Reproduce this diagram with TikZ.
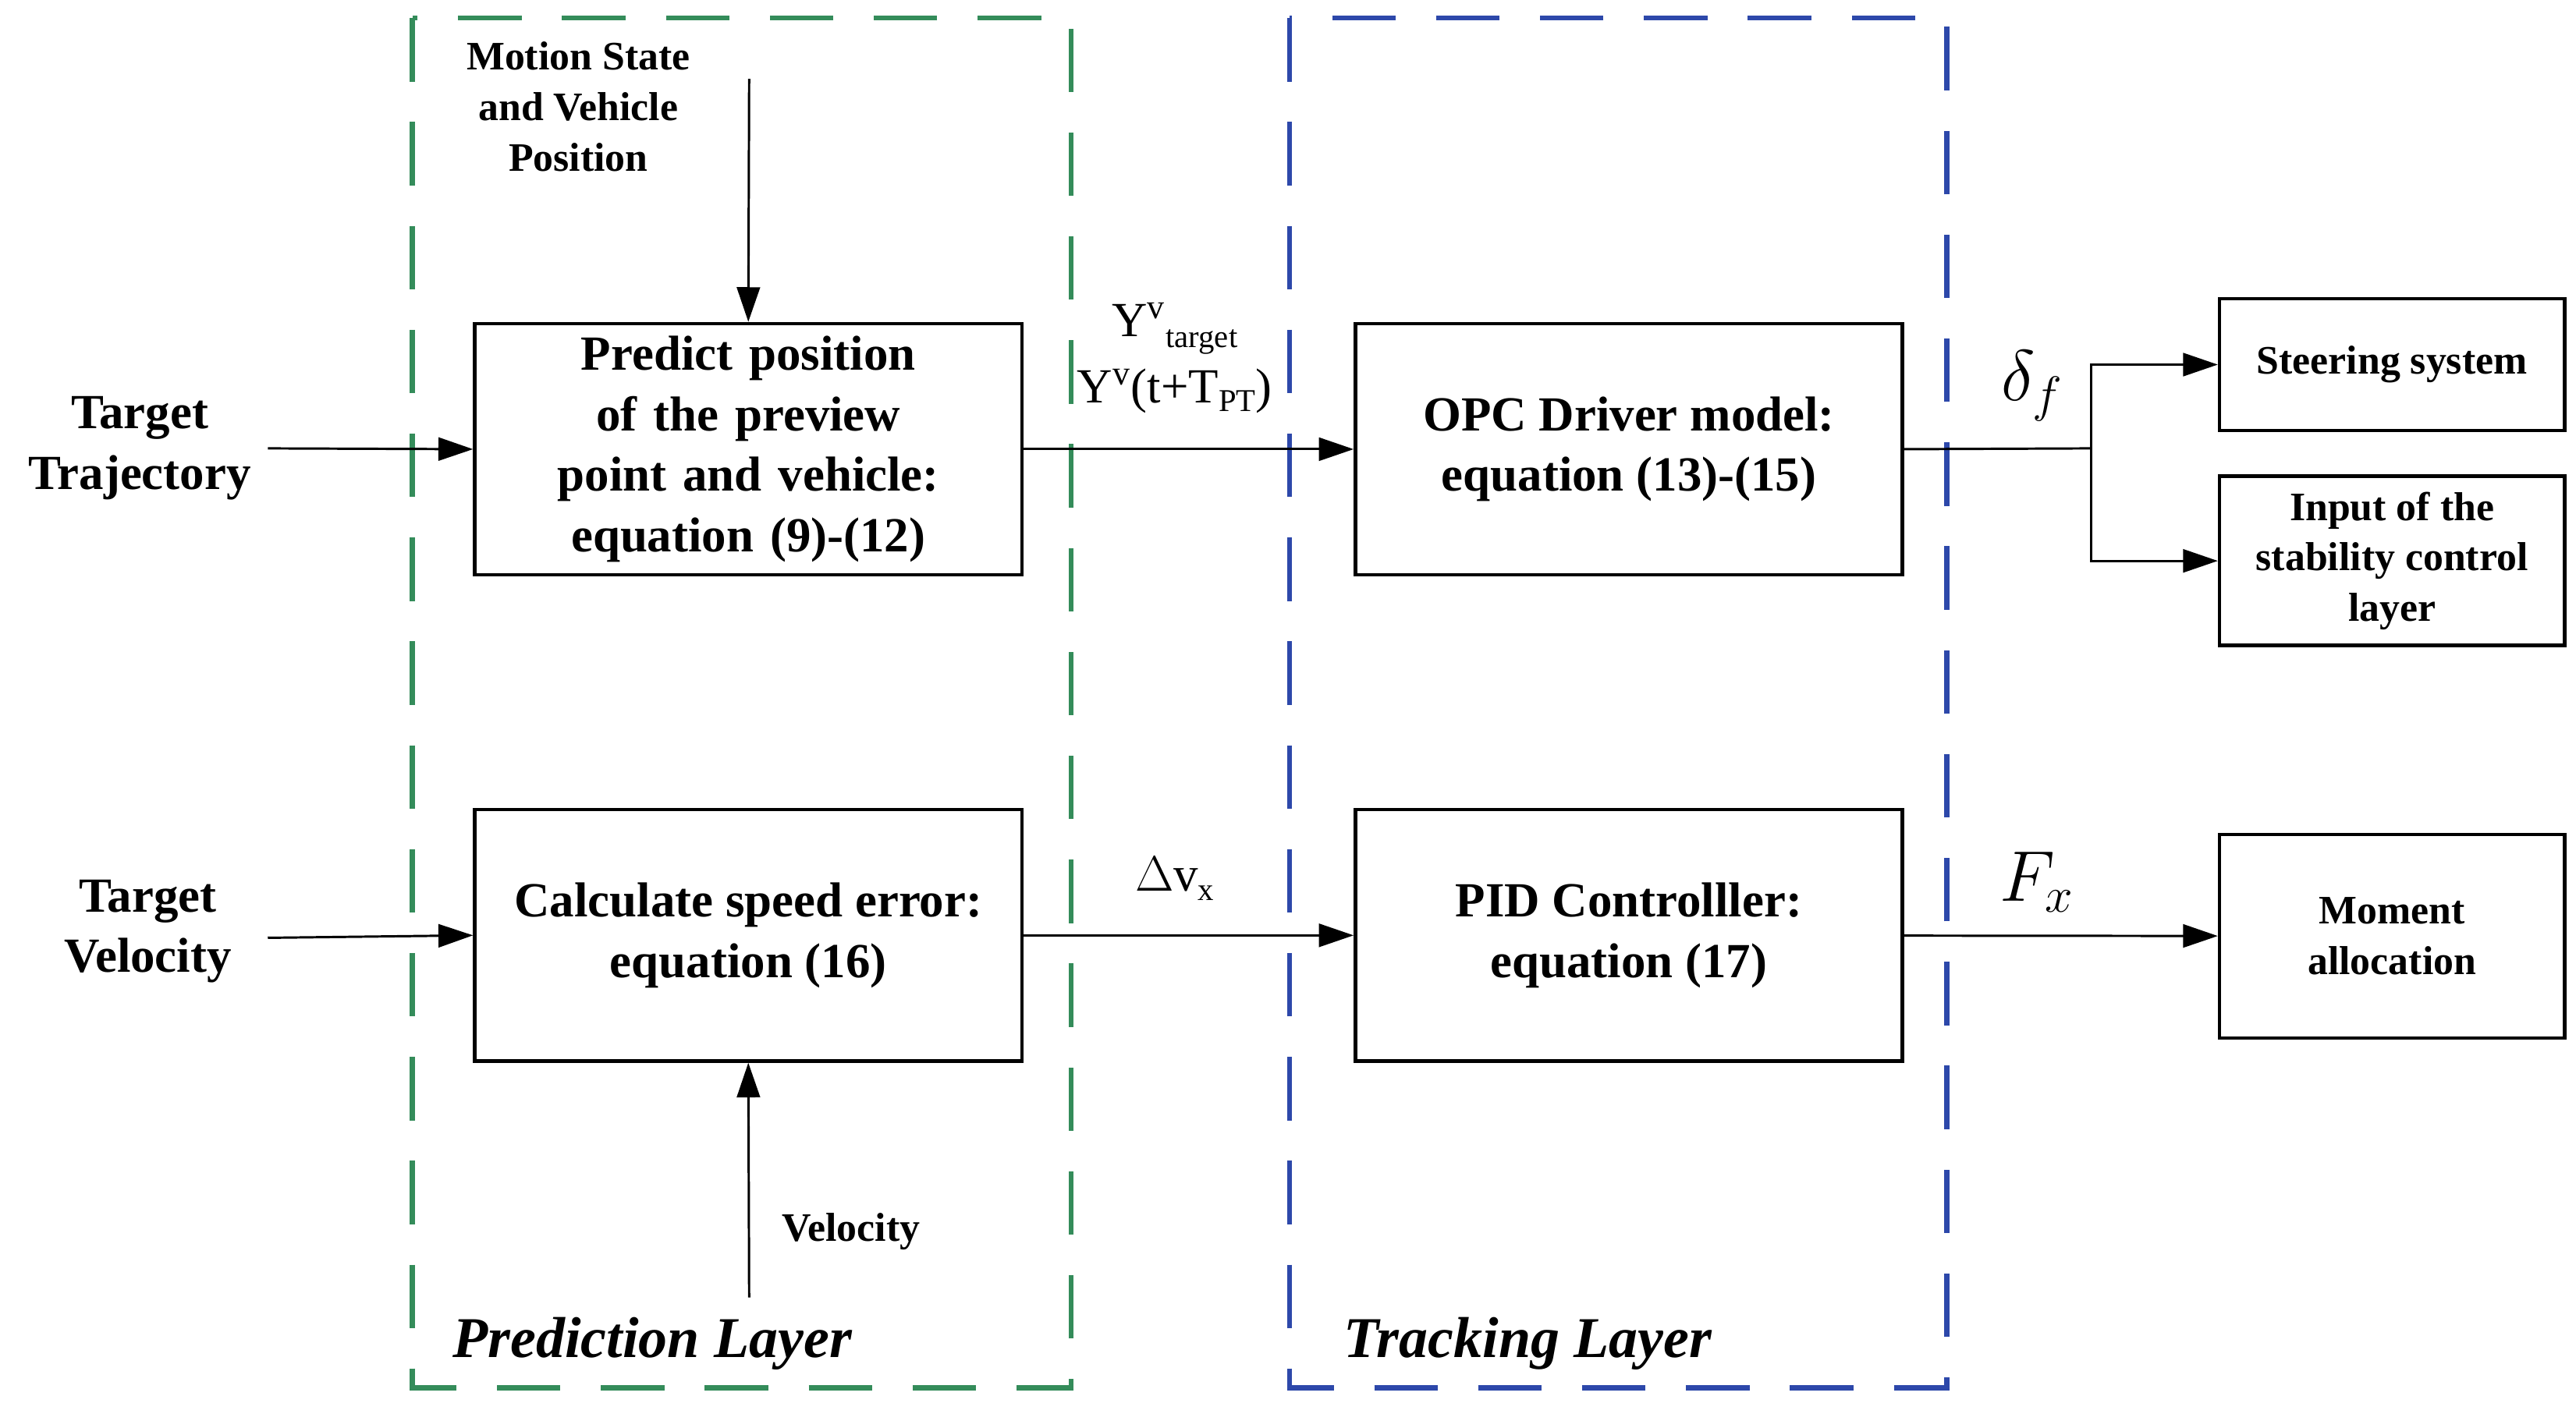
\documentclass[tikz,border=0pt]{standalone}
\usepackage{fontspec}
\setmainfont{Liberation Serif}
\usetikzlibrary{arrows.meta, positioning}
\definecolor{predgreen}{RGB}{52,140,90}
\definecolor{trackblue}{RGB}{45,72,170}
\tikzset{
  block/.style={draw, line width=1.2pt, align=center, font=\fontsize{17}{21}\selectfont\bfseries},
  outbox/.style={draw, line width=1.2pt, align=center, font=\fontsize{14}{17.5}\selectfont\bfseries},
  layer/.style={line width=1.8pt, dash pattern=on 22pt off 14pt},
  sig/.style={-{Triangle[length=12pt,width=8pt]}, line width=0.8pt},
  lbl/.style={font=\fontsize{17}{21}\selectfont\bfseries, align=center},
  small/.style={font=\fontsize{14}{17.5}\selectfont\bfseries, align=center}
}
\begin{document}
\begin{tikzpicture}[x=0.02cm, y=-0.02cm]
  \useasboundingbox (0,0) rectangle (1568,869);
  % layers
  \draw[layer, predgreen] (251,11) rectangle (652,845);
  \draw[layer, trackblue] (785,11) rectangle (1185,845);
  \node[font=\fontsize{20}{24}\selectfont\bfseries\itshape] (predlab) at (397,818) {Prediction Layer};
  \node[font=\fontsize{20}{24}\selectfont\bfseries\itshape] (tracklab) at (930,818) {Tracking Layer};
  % blocks
  \node[block, minimum width=333*0.02cm, minimum height=153*0.02cm, text width=300*0.02cm] (predict) at (455.5,273.5)
    {Predict position of the preview point and vehicle: equation (9)-(12)};
  \node[block, minimum width=333*0.02cm, minimum height=153*0.02cm] (opc) at (991.5,273.5)
    {OPC Driver model:\\equation (13)-(15)};
  \node[block, minimum width=333*0.02cm, minimum height=153*0.02cm] (speed) at (455.5,569.5)
    {Calculate speed error:\\equation (16)};
  \node[block, minimum width=333*0.02cm, minimum height=153*0.02cm] (pid) at (991.5,569.5)
    {PID Controlller:\\equation (17)};
  \node[outbox, minimum width=210*0.02cm, minimum height=80*0.02cm] (steer) at (1456,222) {Steering system};
  \node[outbox, minimum width=210*0.02cm, minimum height=103*0.02cm] (stab) at (1456,341.5) {Input of the\\stability control\\layer};
  \node[outbox, minimum width=210*0.02cm, minimum height=124*0.02cm] (moment) at (1456,570) {Moment\\allocation};
  % inputs
  \node[lbl] (traj) at (85,273) {Target\\Trajectory};
  \node[lbl] (vel) at (90,567) {Target\\Velocity};
  \node[small] (motion) at (352,65) {Motion State\\and Vehicle\\Position};
  \node[small] (velo) at (518,750) {Velocity};
  \coordinate (trajend) at (163,273);
  \coordinate (velend) at (163,571);
  \coordinate (motend) at (456,48);
  \coordinate (veloend) at (456,790);
  \coordinate (split) at (1273,273);
  \draw[sig] (trajend) -- (predict.west);
  \draw[sig] (velend) -- (speed.west);
  \draw[sig] (motend) -- (predict.north);
  \draw[sig] (veloend) -- (speed.south);
  \draw[sig] (predict) -- (opc);
  \draw[sig] (speed) -- (pid);
  \draw[line width=0.8pt] (opc.east) -- (split);
  \draw[sig] (split) |- (steer.west);
  \draw[sig] (split) |- (stab.west);
  \draw[sig] (pid) -- (moment);
  % signal labels
  \node[font=\fontsize{17}{21}\selectfont] (ytar) at (715,200) {Y$^{\mathrm{v}}$\raisebox{-0.5ex}{\fontsize{11}{13}\selectfont target}};
  \node[font=\fontsize{17}{21}\selectfont] (ypt) at (715,238) {Y$^{\mathrm{v}}$(t+T\raisebox{-0.4ex}{\fontsize{11}{13}\selectfont PT})};
  \node[font=\fontsize{17}{21}\selectfont] (dvx) at (715,535) {$\Delta$v\raisebox{-0.4ex}{\fontsize{11}{13}\selectfont x}};
  \node[font=\fontsize{24}{28}\selectfont] (delta) at (1237,235) {$\delta_f$};
  \node[font=\fontsize{24}{28}\selectfont] (fx) at (1240,537) {$F_x$};
\end{tikzpicture}
\end{document}
